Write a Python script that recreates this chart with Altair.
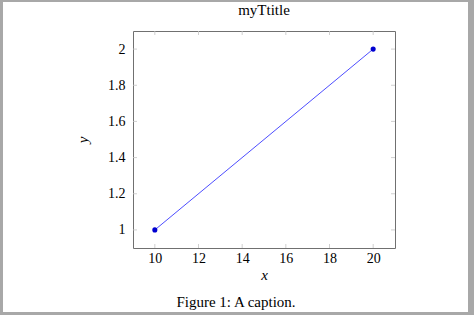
import altair as alt
import pandas as pd

# ---- data ----
x_vals = [10, 20]
y_vals = [1, 2]
x_ticks = [10, 12, 14, 16, 18, 20]
y_ticks = [1, 1.2, 1.4, 1.6, 1.8, 2]
x_domain = [9, 21]
y_domain = [0.9, 2.1]
title_text = "myTtitle"
caption_text = "Figure 1: A caption."
x_label = "x"
y_label = "y"

FONT = "Liberation Serif"
W, H = 262, 217
GRAY = "#a8a8a8"

df = pd.DataFrame({"x": x_vals, "y": y_vals})
xt = pd.DataFrame({"x": x_ticks})
yt = pd.DataFrame({"y": y_ticks})
one = pd.DataFrame({"a": [0]})

xscale = alt.Scale(domain=x_domain, nice=False, zero=False)
yscale = alt.Scale(domain=y_domain, nice=False, zero=False)

xaxis = alt.Axis(values=x_ticks, format="~g", domain=False, ticks=False, grid=False,
                 labelPadding=3, labelFont=FONT, labelFontSize=14, labelColor="black",
                 title=x_label, titleFont=FONT, titleFontSize=15, titleFontStyle="italic",
                 titleFontWeight="normal", titleColor="black", titleY=31,
                 titleBaseline="alphabetic", zindex=1)
yaxis = alt.Axis(values=y_ticks, format="~g", domain=False, ticks=False, grid=False,
                 labelPadding=8, labelFont=FONT, labelFontSize=14, labelColor="black",
                 title=y_label, titleFont=FONT, titleFontSize=15, titleFontStyle="italic",
                 titleFontWeight="normal", titleColor="black", titleX=-46, titleY=H / 2,
                 titleAngle=270, titleAlign="center", titleBaseline="alphabetic", zindex=1)

# grey page surround (viewer background) as thin strips at the picture edges
def strip(x, x2, y, y2):
    return alt.Chart(one).mark_rect(color=GRAY).encode(
        x=alt.value(x), x2=alt.value(x2), y=alt.value(y), y2=alt.value(y2))

edges = [
    strip(-133, 341, -31, -29),   # top
    strip(-133, -130, -31, 284),  # left
    strip(335, 341, -31, 284),    # right
    strip(-133, 341, 281, 284),   # bottom
]

line = alt.Chart(df).mark_line(color="#2020ff", strokeWidth=0.8).encode(
    x=alt.X("x:Q", scale=xscale, axis=xaxis),
    y=alt.Y("y:Q", scale=yscale, axis=yaxis))

points = alt.Chart(df).mark_circle(color="#0000d0", size=26, opacity=1).encode(
    x=alt.X("x:Q"), y=alt.Y("y:Q"))

tick_style = dict(color="#c4c4c4", strokeWidth=0.8)
top_ticks = alt.Chart(xt).mark_rule(**tick_style).encode(
    x=alt.X("x:Q"), y=alt.value(0), y2=alt.value(4))
bottom_ticks = alt.Chart(xt).mark_rule(**tick_style).encode(
    x=alt.X("x:Q"), y=alt.value(H), y2=alt.value(H - 4))
left_ticks = alt.Chart(yt).mark_rule(**tick_style).encode(
    y=alt.Y("y:Q"), x=alt.value(0), x2=alt.value(4))
right_ticks = alt.Chart(yt).mark_rule(**tick_style).encode(
    y=alt.Y("y:Q"), x=alt.value(W), x2=alt.value(W - 4))

title = alt.Chart(one).mark_text(
    text=title_text, font=FONT, fontSize=15, color="black",
    align="center", baseline="alphabetic").encode(
    x=alt.value(W / 2), y=alt.value(-16))

caption = alt.Chart(one).mark_text(
    text=caption_text, font=FONT, fontSize=15, color="black",
    align="center", baseline="alphabetic").encode(
    x=alt.value(103), y=alt.value(275.5))

chart = alt.layer(
    *edges, top_ticks, bottom_ticks, left_ticks, right_ticks, line, points, title, caption
).properties(
    width=W, height=H,
    autosize=alt.AutoSizeParams(type="none"),
    padding={"left": 133, "top": 31, "right": 79, "bottom": 67},
    background="white",
).configure_view(stroke="#707070", strokeWidth=1)

chart.save("out.html", embed_options={"renderer": "svg", "actions": False})
